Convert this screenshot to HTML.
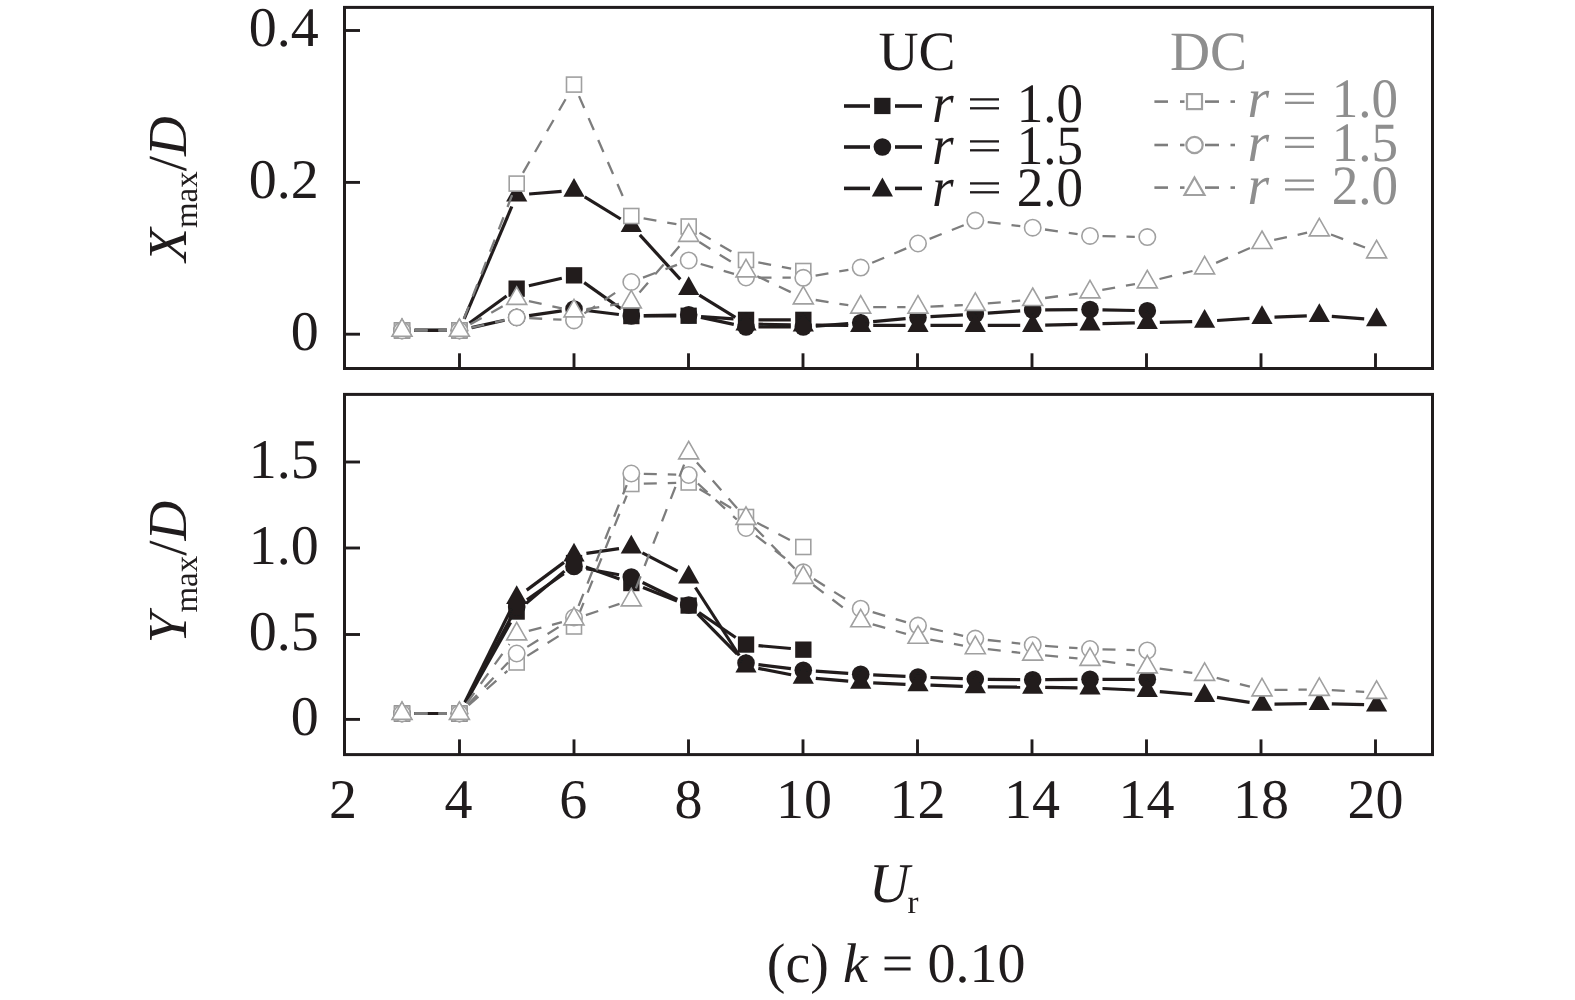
<!DOCTYPE html>
<html><head><meta charset="utf-8"><title>chart</title>
<style>html,body{margin:0;padding:0;background:#fff;}body{width:1575px;height:1000px;position:relative;overflow:hidden;font-family:"Liberation Serif",serif;}</style>
</head><body>
<svg width="1575" height="1000" viewBox="0 0 1575 1000" style="position:absolute;left:0;top:0">
<rect width="1575" height="1000" fill="#fff"/>
<defs><filter id="b" x="-5%" y="-5%" width="110%" height="110%"><feGaussianBlur stdDeviation="0.55"/></filter></defs>
<g filter="url(#b)">
<line x1="414.5" y1="330.4" x2="446.9" y2="330.4" stroke="#201c1d" stroke-width="3.2"/>
<line x1="469.5" y1="323.0" x2="506.6" y2="296.0" stroke="#201c1d" stroke-width="3.2"/>
<line x1="528.9" y1="285.8" x2="561.8" y2="278.2" stroke="#201c1d" stroke-width="3.2"/>
<line x1="584.2" y1="282.6" x2="621.1" y2="308.8" stroke="#201c1d" stroke-width="3.2"/>
<line x1="643.8" y1="315.9" x2="676.2" y2="315.8" stroke="#201c1d" stroke-width="3.2"/>
<line x1="701.1" y1="316.6" x2="733.5" y2="318.9" stroke="#201c1d" stroke-width="3.2"/>
<line x1="758.5" y1="319.8" x2="790.8" y2="319.8" stroke="#201c1d" stroke-width="3.2"/>
<rect x="393.9" y="322.2" width="16.3" height="16.3" fill="#201c1d" stroke="none"/>
<rect x="451.2" y="322.2" width="16.3" height="16.3" fill="#201c1d" stroke="none"/>
<rect x="508.5" y="280.5" width="16.3" height="16.3" fill="#201c1d" stroke="none"/>
<rect x="565.9" y="267.2" width="16.3" height="16.3" fill="#201c1d" stroke="none"/>
<rect x="623.2" y="307.9" width="16.3" height="16.3" fill="#201c1d" stroke="none"/>
<rect x="680.5" y="307.6" width="16.3" height="16.3" fill="#201c1d" stroke="none"/>
<rect x="737.9" y="311.7" width="16.3" height="16.3" fill="#201c1d" stroke="none"/>
<rect x="795.2" y="311.7" width="16.3" height="16.3" fill="#201c1d" stroke="none"/>
<line x1="414.5" y1="330.4" x2="446.9" y2="330.4" stroke="#201c1d" stroke-width="3.2"/>
<line x1="471.6" y1="327.6" x2="504.5" y2="320.2" stroke="#201c1d" stroke-width="3.2"/>
<line x1="529.1" y1="315.6" x2="561.7" y2="310.8" stroke="#201c1d" stroke-width="3.2"/>
<line x1="586.4" y1="310.5" x2="618.9" y2="314.5" stroke="#201c1d" stroke-width="3.2"/>
<line x1="643.8" y1="315.7" x2="676.2" y2="315.1" stroke="#201c1d" stroke-width="3.2"/>
<line x1="700.9" y1="317.4" x2="733.8" y2="324.4" stroke="#201c1d" stroke-width="3.2"/>
<line x1="758.5" y1="327.0" x2="790.8" y2="327.0" stroke="#201c1d" stroke-width="3.2"/>
<line x1="815.8" y1="326.1" x2="848.2" y2="323.6" stroke="#201c1d" stroke-width="3.2"/>
<line x1="873.1" y1="321.6" x2="905.6" y2="318.6" stroke="#201c1d" stroke-width="3.2"/>
<line x1="930.5" y1="316.7" x2="962.9" y2="314.8" stroke="#201c1d" stroke-width="3.2"/>
<line x1="987.8" y1="313.1" x2="1020.2" y2="310.9" stroke="#201c1d" stroke-width="3.2"/>
<line x1="1045.2" y1="309.9" x2="1077.5" y2="309.6" stroke="#201c1d" stroke-width="3.2"/>
<line x1="1102.5" y1="309.8" x2="1134.8" y2="310.5" stroke="#201c1d" stroke-width="3.2"/>
<circle cx="402.0" cy="330.4" r="8.8" fill="#201c1d" stroke="none"/>
<circle cx="459.4" cy="330.4" r="8.8" fill="#201c1d" stroke="none"/>
<circle cx="516.7" cy="317.4" r="8.8" fill="#201c1d" stroke="none"/>
<circle cx="574.0" cy="309.0" r="8.8" fill="#201c1d" stroke="none"/>
<circle cx="631.3" cy="316.0" r="8.8" fill="#201c1d" stroke="none"/>
<circle cx="688.7" cy="314.8" r="8.8" fill="#201c1d" stroke="none"/>
<circle cx="746.0" cy="327.0" r="8.8" fill="#201c1d" stroke="none"/>
<circle cx="803.3" cy="327.0" r="8.8" fill="#201c1d" stroke="none"/>
<circle cx="860.7" cy="322.7" r="8.8" fill="#201c1d" stroke="none"/>
<circle cx="918.0" cy="317.5" r="8.8" fill="#201c1d" stroke="none"/>
<circle cx="975.3" cy="314.0" r="8.8" fill="#201c1d" stroke="none"/>
<circle cx="1032.7" cy="310.0" r="8.8" fill="#201c1d" stroke="none"/>
<circle cx="1090.0" cy="309.5" r="8.8" fill="#201c1d" stroke="none"/>
<circle cx="1147.3" cy="310.8" r="8.8" fill="#201c1d" stroke="none"/>
<line x1="414.5" y1="330.4" x2="446.9" y2="330.4" stroke="#201c1d" stroke-width="3.2"/>
<line x1="464.2" y1="318.9" x2="511.8" y2="206.5" stroke="#201c1d" stroke-width="3.2"/>
<line x1="529.1" y1="194.0" x2="561.6" y2="191.3" stroke="#201c1d" stroke-width="3.2"/>
<line x1="584.7" y1="196.9" x2="620.7" y2="219.0" stroke="#201c1d" stroke-width="3.2"/>
<line x1="639.8" y1="234.8" x2="680.3" y2="279.4" stroke="#201c1d" stroke-width="3.2"/>
<line x1="699.3" y1="295.2" x2="735.4" y2="317.4" stroke="#201c1d" stroke-width="3.2"/>
<line x1="758.5" y1="324.2" x2="790.8" y2="324.8" stroke="#201c1d" stroke-width="3.2"/>
<line x1="815.8" y1="325.1" x2="848.2" y2="325.3" stroke="#201c1d" stroke-width="3.2"/>
<line x1="873.2" y1="325.4" x2="905.5" y2="325.4" stroke="#201c1d" stroke-width="3.2"/>
<line x1="930.5" y1="325.4" x2="962.8" y2="325.4" stroke="#201c1d" stroke-width="3.2"/>
<line x1="987.8" y1="325.4" x2="1020.2" y2="325.4" stroke="#201c1d" stroke-width="3.2"/>
<line x1="1045.2" y1="325.1" x2="1077.5" y2="324.3" stroke="#201c1d" stroke-width="3.2"/>
<line x1="1102.5" y1="323.7" x2="1134.8" y2="322.9" stroke="#201c1d" stroke-width="3.2"/>
<line x1="1159.8" y1="322.3" x2="1192.2" y2="321.6" stroke="#201c1d" stroke-width="3.2"/>
<line x1="1217.1" y1="320.5" x2="1249.5" y2="318.3" stroke="#201c1d" stroke-width="3.2"/>
<line x1="1274.5" y1="317.1" x2="1306.8" y2="315.9" stroke="#201c1d" stroke-width="3.2"/>
<line x1="1331.8" y1="316.4" x2="1364.2" y2="318.9" stroke="#201c1d" stroke-width="3.2"/>
<path d="M402.0 318.1L412.6 336.9L391.4 336.9Z" fill="#201c1d" stroke="none"/>
<path d="M459.4 318.1L470.0 336.9L448.8 336.9Z" fill="#201c1d" stroke="none"/>
<path d="M516.7 182.7L527.3 201.5L506.1 201.5Z" fill="#201c1d" stroke="none"/>
<path d="M574.0 178.0L584.6 196.8L563.4 196.8Z" fill="#201c1d" stroke="none"/>
<path d="M631.3 213.3L641.9 232.1L620.7 232.1Z" fill="#201c1d" stroke="none"/>
<path d="M688.7 276.3L699.3 295.1L678.1 295.1Z" fill="#201c1d" stroke="none"/>
<path d="M746.0 311.7L756.6 330.5L735.4 330.5Z" fill="#201c1d" stroke="none"/>
<path d="M803.3 312.7L813.9 331.5L792.7 331.5Z" fill="#201c1d" stroke="none"/>
<path d="M860.7 313.1L871.3 331.9L850.1 331.9Z" fill="#201c1d" stroke="none"/>
<path d="M918.0 313.1L928.6 331.9L907.4 331.9Z" fill="#201c1d" stroke="none"/>
<path d="M975.3 313.1L985.9 331.9L964.7 331.9Z" fill="#201c1d" stroke="none"/>
<path d="M1032.7 313.1L1043.3 331.9L1022.1 331.9Z" fill="#201c1d" stroke="none"/>
<path d="M1090.0 311.7L1100.6 330.5L1079.4 330.5Z" fill="#201c1d" stroke="none"/>
<path d="M1147.3 310.3L1157.9 329.1L1136.7 329.1Z" fill="#201c1d" stroke="none"/>
<path d="M1204.6 309.0L1215.2 327.8L1194.0 327.8Z" fill="#201c1d" stroke="none"/>
<path d="M1262.0 305.2L1272.6 324.0L1251.4 324.0Z" fill="#201c1d" stroke="none"/>
<path d="M1319.3 303.2L1329.9 322.0L1308.7 322.0Z" fill="#201c1d" stroke="none"/>
<path d="M1376.6 307.5L1387.2 326.3L1366.0 326.3Z" fill="#201c1d" stroke="none"/>
<line x1="414.5" y1="330.4" x2="446.9" y2="330.4" stroke="#7d7d7d" stroke-width="2.3" stroke-dasharray="13 11"/>
<line x1="463.9" y1="318.8" x2="512.1" y2="195.2" stroke="#7d7d7d" stroke-width="2.3" stroke-dasharray="13 11"/>
<line x1="523.0" y1="172.8" x2="567.8" y2="95.4" stroke="#7d7d7d" stroke-width="2.3" stroke-dasharray="13 11"/>
<line x1="579.0" y1="96.1" x2="626.4" y2="204.5" stroke="#7d7d7d" stroke-width="2.3" stroke-dasharray="13 11"/>
<line x1="643.6" y1="218.3" x2="676.4" y2="224.2" stroke="#7d7d7d" stroke-width="2.3" stroke-dasharray="13 11"/>
<line x1="699.5" y1="232.8" x2="735.2" y2="253.7" stroke="#7d7d7d" stroke-width="2.3" stroke-dasharray="13 11"/>
<line x1="758.3" y1="262.4" x2="791.1" y2="268.6" stroke="#7d7d7d" stroke-width="2.3" stroke-dasharray="13 11"/>
<rect x="394.5" y="322.9" width="15.0" height="15.0" fill="#fff" stroke="#a0a0a0" stroke-width="1.6"/>
<rect x="451.9" y="322.9" width="15.0" height="15.0" fill="#fff" stroke="#a0a0a0" stroke-width="1.6"/>
<rect x="509.2" y="176.1" width="15.0" height="15.0" fill="#fff" stroke="#a0a0a0" stroke-width="1.6"/>
<rect x="566.5" y="77.1" width="15.0" height="15.0" fill="#fff" stroke="#a0a0a0" stroke-width="1.6"/>
<rect x="623.8" y="208.5" width="15.0" height="15.0" fill="#fff" stroke="#a0a0a0" stroke-width="1.6"/>
<rect x="681.2" y="219.0" width="15.0" height="15.0" fill="#fff" stroke="#a0a0a0" stroke-width="1.6"/>
<rect x="738.5" y="252.5" width="15.0" height="15.0" fill="#fff" stroke="#a0a0a0" stroke-width="1.6"/>
<rect x="795.8" y="263.5" width="15.0" height="15.0" fill="#fff" stroke="#a0a0a0" stroke-width="1.6"/>
<line x1="414.5" y1="330.4" x2="446.9" y2="330.4" stroke="#7d7d7d" stroke-width="2.3" stroke-dasharray="13 11"/>
<line x1="471.6" y1="327.6" x2="504.5" y2="320.2" stroke="#7d7d7d" stroke-width="2.3" stroke-dasharray="13 11"/>
<line x1="529.2" y1="318.1" x2="561.5" y2="319.7" stroke="#7d7d7d" stroke-width="2.3" stroke-dasharray="13 11"/>
<line x1="584.4" y1="313.4" x2="621.0" y2="289.0" stroke="#7d7d7d" stroke-width="2.3" stroke-dasharray="13 11"/>
<line x1="643.0" y1="277.6" x2="677.0" y2="264.8" stroke="#7d7d7d" stroke-width="2.3" stroke-dasharray="13 11"/>
<line x1="700.7" y1="264.0" x2="734.0" y2="273.9" stroke="#7d7d7d" stroke-width="2.3" stroke-dasharray="13 11"/>
<line x1="758.5" y1="277.6" x2="790.8" y2="277.7" stroke="#7d7d7d" stroke-width="2.3" stroke-dasharray="13 11"/>
<line x1="815.6" y1="275.6" x2="848.4" y2="269.8" stroke="#7d7d7d" stroke-width="2.3" stroke-dasharray="13 11"/>
<line x1="872.2" y1="262.8" x2="906.5" y2="248.3" stroke="#7d7d7d" stroke-width="2.3" stroke-dasharray="13 11"/>
<line x1="929.6" y1="238.9" x2="963.7" y2="225.2" stroke="#7d7d7d" stroke-width="2.3" stroke-dasharray="13 11"/>
<line x1="987.7" y1="222.1" x2="1020.3" y2="226.2" stroke="#7d7d7d" stroke-width="2.3" stroke-dasharray="13 11"/>
<line x1="1045.0" y1="229.5" x2="1077.6" y2="234.1" stroke="#7d7d7d" stroke-width="2.3" stroke-dasharray="13 11"/>
<line x1="1102.5" y1="236.2" x2="1134.8" y2="236.8" stroke="#7d7d7d" stroke-width="2.3" stroke-dasharray="13 11"/>
<circle cx="402.0" cy="330.4" r="8.2" fill="#fff" stroke="#a0a0a0" stroke-width="1.6"/>
<circle cx="459.4" cy="330.4" r="8.2" fill="#fff" stroke="#a0a0a0" stroke-width="1.6"/>
<circle cx="516.7" cy="317.4" r="8.2" fill="#fff" stroke="#a0a0a0" stroke-width="1.6"/>
<circle cx="574.0" cy="320.4" r="8.2" fill="#fff" stroke="#a0a0a0" stroke-width="1.6"/>
<circle cx="631.3" cy="282.0" r="8.2" fill="#fff" stroke="#a0a0a0" stroke-width="1.6"/>
<circle cx="688.7" cy="260.4" r="8.2" fill="#fff" stroke="#a0a0a0" stroke-width="1.6"/>
<circle cx="746.0" cy="277.5" r="8.2" fill="#fff" stroke="#a0a0a0" stroke-width="1.6"/>
<circle cx="803.3" cy="277.8" r="8.2" fill="#fff" stroke="#a0a0a0" stroke-width="1.6"/>
<circle cx="860.7" cy="267.6" r="8.2" fill="#fff" stroke="#a0a0a0" stroke-width="1.6"/>
<circle cx="918.0" cy="243.5" r="8.2" fill="#fff" stroke="#a0a0a0" stroke-width="1.6"/>
<circle cx="975.3" cy="220.6" r="8.2" fill="#fff" stroke="#a0a0a0" stroke-width="1.6"/>
<circle cx="1032.7" cy="227.7" r="8.2" fill="#fff" stroke="#a0a0a0" stroke-width="1.6"/>
<circle cx="1090.0" cy="235.9" r="8.2" fill="#fff" stroke="#a0a0a0" stroke-width="1.6"/>
<circle cx="1147.3" cy="237.1" r="8.2" fill="#fff" stroke="#a0a0a0" stroke-width="1.6"/>
<line x1="414.5" y1="330.4" x2="446.9" y2="330.4" stroke="#7d7d7d" stroke-width="2.3" stroke-dasharray="13 11"/>
<line x1="470.3" y1="324.3" x2="505.8" y2="304.6" stroke="#7d7d7d" stroke-width="2.3" stroke-dasharray="13 11"/>
<line x1="528.9" y1="301.2" x2="561.8" y2="308.3" stroke="#7d7d7d" stroke-width="2.3" stroke-dasharray="13 11"/>
<line x1="586.4" y1="309.1" x2="619.0" y2="303.9" stroke="#7d7d7d" stroke-width="2.3" stroke-dasharray="13 11"/>
<line x1="639.5" y1="292.5" x2="680.5" y2="245.0" stroke="#7d7d7d" stroke-width="2.3" stroke-dasharray="13 11"/>
<line x1="699.3" y1="242.1" x2="735.4" y2="264.4" stroke="#7d7d7d" stroke-width="2.3" stroke-dasharray="13 11"/>
<line x1="757.3" y1="276.3" x2="792.0" y2="292.7" stroke="#7d7d7d" stroke-width="2.3" stroke-dasharray="13 11"/>
<line x1="815.7" y1="300.0" x2="848.3" y2="305.2" stroke="#7d7d7d" stroke-width="2.3" stroke-dasharray="13 11"/>
<line x1="873.2" y1="307.2" x2="905.5" y2="307.2" stroke="#7d7d7d" stroke-width="2.3" stroke-dasharray="13 11"/>
<line x1="930.5" y1="306.6" x2="962.8" y2="305.1" stroke="#7d7d7d" stroke-width="2.3" stroke-dasharray="13 11"/>
<line x1="987.8" y1="303.4" x2="1020.2" y2="300.7" stroke="#7d7d7d" stroke-width="2.3" stroke-dasharray="13 11"/>
<line x1="1045.1" y1="298.0" x2="1077.6" y2="293.6" stroke="#7d7d7d" stroke-width="2.3" stroke-dasharray="13 11"/>
<line x1="1102.3" y1="289.9" x2="1135.0" y2="284.1" stroke="#7d7d7d" stroke-width="2.3" stroke-dasharray="13 11"/>
<line x1="1159.5" y1="279.0" x2="1192.5" y2="271.0" stroke="#7d7d7d" stroke-width="2.3" stroke-dasharray="13 11"/>
<line x1="1216.1" y1="262.9" x2="1250.6" y2="247.7" stroke="#7d7d7d" stroke-width="2.3" stroke-dasharray="13 11"/>
<line x1="1274.2" y1="239.9" x2="1307.1" y2="232.7" stroke="#7d7d7d" stroke-width="2.3" stroke-dasharray="13 11"/>
<line x1="1331.0" y1="234.5" x2="1365.0" y2="247.5" stroke="#7d7d7d" stroke-width="2.3" stroke-dasharray="13 11"/>
<path d="M402.0 318.8L412.0 336.3L392.0 336.3Z" fill="#fff" stroke="#a0a0a0" stroke-width="1.6"/>
<path d="M459.4 318.8L469.4 336.3L449.4 336.3Z" fill="#fff" stroke="#a0a0a0" stroke-width="1.6"/>
<path d="M516.7 286.9L526.7 304.4L506.7 304.4Z" fill="#fff" stroke="#a0a0a0" stroke-width="1.6"/>
<path d="M574.0 299.4L584.0 316.9L564.0 316.9Z" fill="#fff" stroke="#a0a0a0" stroke-width="1.6"/>
<path d="M631.3 290.4L641.3 307.9L621.3 307.9Z" fill="#fff" stroke="#a0a0a0" stroke-width="1.6"/>
<path d="M688.7 223.9L698.7 241.4L678.7 241.4Z" fill="#fff" stroke="#a0a0a0" stroke-width="1.6"/>
<path d="M746.0 259.4L756.0 276.9L736.0 276.9Z" fill="#fff" stroke="#a0a0a0" stroke-width="1.6"/>
<path d="M803.3 286.4L813.3 303.9L793.3 303.9Z" fill="#fff" stroke="#a0a0a0" stroke-width="1.6"/>
<path d="M860.7 295.6L870.7 313.1L850.7 313.1Z" fill="#fff" stroke="#a0a0a0" stroke-width="1.6"/>
<path d="M918.0 295.6L928.0 313.1L908.0 313.1Z" fill="#fff" stroke="#a0a0a0" stroke-width="1.6"/>
<path d="M975.3 292.9L985.3 310.4L965.3 310.4Z" fill="#fff" stroke="#a0a0a0" stroke-width="1.6"/>
<path d="M1032.7 288.0L1042.7 305.5L1022.7 305.5Z" fill="#fff" stroke="#a0a0a0" stroke-width="1.6"/>
<path d="M1090.0 280.4L1100.0 297.9L1080.0 297.9Z" fill="#fff" stroke="#a0a0a0" stroke-width="1.6"/>
<path d="M1147.3 270.4L1157.3 287.9L1137.3 287.9Z" fill="#fff" stroke="#a0a0a0" stroke-width="1.6"/>
<path d="M1204.6 256.4L1214.6 273.9L1194.6 273.9Z" fill="#fff" stroke="#a0a0a0" stroke-width="1.6"/>
<path d="M1262.0 231.0L1272.0 248.5L1252.0 248.5Z" fill="#fff" stroke="#a0a0a0" stroke-width="1.6"/>
<path d="M1319.3 218.4L1329.3 235.9L1309.3 235.9Z" fill="#fff" stroke="#a0a0a0" stroke-width="1.6"/>
<path d="M1376.6 240.4L1386.6 257.9L1366.6 257.9Z" fill="#fff" stroke="#a0a0a0" stroke-width="1.6"/>
<line x1="414.5" y1="713.5" x2="446.9" y2="713.5" stroke="#201c1d" stroke-width="3.2"/>
<line x1="465.5" y1="702.6" x2="510.6" y2="622.4" stroke="#201c1d" stroke-width="3.2"/>
<line x1="526.2" y1="603.4" x2="564.5" y2="571.1" stroke="#201c1d" stroke-width="3.2"/>
<line x1="585.8" y1="567.1" x2="619.5" y2="578.9" stroke="#201c1d" stroke-width="3.2"/>
<line x1="643.0" y1="587.6" x2="677.0" y2="600.9" stroke="#201c1d" stroke-width="3.2"/>
<line x1="699.0" y1="612.5" x2="735.7" y2="637.5" stroke="#201c1d" stroke-width="3.2"/>
<line x1="758.5" y1="645.6" x2="790.9" y2="648.5" stroke="#201c1d" stroke-width="3.2"/>
<rect x="393.9" y="705.4" width="16.3" height="16.3" fill="#201c1d" stroke="none"/>
<rect x="451.2" y="705.4" width="16.3" height="16.3" fill="#201c1d" stroke="none"/>
<rect x="508.5" y="603.4" width="16.3" height="16.3" fill="#201c1d" stroke="none"/>
<rect x="565.9" y="554.9" width="16.3" height="16.3" fill="#201c1d" stroke="none"/>
<rect x="623.2" y="574.9" width="16.3" height="16.3" fill="#201c1d" stroke="none"/>
<rect x="680.5" y="597.4" width="16.3" height="16.3" fill="#201c1d" stroke="none"/>
<rect x="737.9" y="636.4" width="16.3" height="16.3" fill="#201c1d" stroke="none"/>
<rect x="795.2" y="641.5" width="16.3" height="16.3" fill="#201c1d" stroke="none"/>
<line x1="414.5" y1="713.5" x2="446.9" y2="713.5" stroke="#201c1d" stroke-width="3.2"/>
<line x1="465.3" y1="702.5" x2="510.8" y2="618.0" stroke="#201c1d" stroke-width="3.2"/>
<line x1="526.9" y1="599.8" x2="563.8" y2="573.7" stroke="#201c1d" stroke-width="3.2"/>
<line x1="586.3" y1="568.8" x2="619.1" y2="574.7" stroke="#201c1d" stroke-width="3.2"/>
<line x1="642.6" y1="582.5" x2="677.4" y2="599.5" stroke="#201c1d" stroke-width="3.2"/>
<line x1="697.5" y1="613.9" x2="737.2" y2="654.1" stroke="#201c1d" stroke-width="3.2"/>
<line x1="758.4" y1="664.6" x2="790.9" y2="668.7" stroke="#201c1d" stroke-width="3.2"/>
<line x1="815.8" y1="671.1" x2="848.2" y2="673.4" stroke="#201c1d" stroke-width="3.2"/>
<line x1="873.2" y1="674.8" x2="905.5" y2="676.4" stroke="#201c1d" stroke-width="3.2"/>
<line x1="930.5" y1="677.5" x2="962.8" y2="678.6" stroke="#201c1d" stroke-width="3.2"/>
<line x1="987.8" y1="679.3" x2="1020.2" y2="679.6" stroke="#201c1d" stroke-width="3.2"/>
<line x1="1045.2" y1="679.7" x2="1077.5" y2="679.4" stroke="#201c1d" stroke-width="3.2"/>
<line x1="1102.5" y1="679.3" x2="1134.8" y2="679.3" stroke="#201c1d" stroke-width="3.2"/>
<circle cx="402.0" cy="713.5" r="8.8" fill="#201c1d" stroke="none"/>
<circle cx="459.4" cy="713.5" r="8.8" fill="#201c1d" stroke="none"/>
<circle cx="516.7" cy="607.0" r="8.8" fill="#201c1d" stroke="none"/>
<circle cx="574.0" cy="566.5" r="8.8" fill="#201c1d" stroke="none"/>
<circle cx="631.3" cy="577.0" r="8.8" fill="#201c1d" stroke="none"/>
<circle cx="688.7" cy="605.0" r="8.8" fill="#201c1d" stroke="none"/>
<circle cx="746.0" cy="663.0" r="8.8" fill="#201c1d" stroke="none"/>
<circle cx="803.3" cy="670.3" r="8.8" fill="#201c1d" stroke="none"/>
<circle cx="860.7" cy="674.2" r="8.8" fill="#201c1d" stroke="none"/>
<circle cx="918.0" cy="677.0" r="8.8" fill="#201c1d" stroke="none"/>
<circle cx="975.3" cy="679.1" r="8.8" fill="#201c1d" stroke="none"/>
<circle cx="1032.7" cy="679.8" r="8.8" fill="#201c1d" stroke="none"/>
<circle cx="1090.0" cy="679.3" r="8.8" fill="#201c1d" stroke="none"/>
<circle cx="1147.3" cy="679.3" r="8.8" fill="#201c1d" stroke="none"/>
<line x1="414.5" y1="713.5" x2="446.9" y2="713.5" stroke="#201c1d" stroke-width="3.2"/>
<line x1="464.9" y1="702.3" x2="511.2" y2="608.7" stroke="#201c1d" stroke-width="3.2"/>
<line x1="526.7" y1="590.1" x2="564.0" y2="562.4" stroke="#201c1d" stroke-width="3.2"/>
<line x1="586.4" y1="553.3" x2="619.0" y2="548.7" stroke="#201c1d" stroke-width="3.2"/>
<line x1="642.4" y1="552.8" x2="677.6" y2="571.2" stroke="#201c1d" stroke-width="3.2"/>
<line x1="695.4" y1="587.5" x2="739.2" y2="655.5" stroke="#201c1d" stroke-width="3.2"/>
<line x1="758.3" y1="668.4" x2="791.1" y2="674.8" stroke="#201c1d" stroke-width="3.2"/>
<line x1="815.8" y1="678.3" x2="848.2" y2="681.2" stroke="#201c1d" stroke-width="3.2"/>
<line x1="873.2" y1="682.8" x2="905.5" y2="684.3" stroke="#201c1d" stroke-width="3.2"/>
<line x1="930.5" y1="685.2" x2="962.8" y2="686.4" stroke="#201c1d" stroke-width="3.2"/>
<line x1="987.8" y1="686.9" x2="1020.2" y2="687.1" stroke="#201c1d" stroke-width="3.2"/>
<line x1="1045.2" y1="687.4" x2="1077.5" y2="687.8" stroke="#201c1d" stroke-width="3.2"/>
<line x1="1102.5" y1="688.5" x2="1134.8" y2="690.0" stroke="#201c1d" stroke-width="3.2"/>
<line x1="1159.8" y1="691.6" x2="1192.2" y2="694.4" stroke="#201c1d" stroke-width="3.2"/>
<line x1="1217.0" y1="697.4" x2="1249.6" y2="702.4" stroke="#201c1d" stroke-width="3.2"/>
<line x1="1274.5" y1="704.1" x2="1306.8" y2="703.7" stroke="#201c1d" stroke-width="3.2"/>
<line x1="1331.8" y1="703.8" x2="1364.1" y2="704.7" stroke="#201c1d" stroke-width="3.2"/>
<path d="M402.0 701.2L412.6 720.0L391.4 720.0Z" fill="#201c1d" stroke="none"/>
<path d="M459.4 701.2L470.0 720.0L448.8 720.0Z" fill="#201c1d" stroke="none"/>
<path d="M516.7 585.2L527.3 604.0L506.1 604.0Z" fill="#201c1d" stroke="none"/>
<path d="M574.0 542.7L584.6 561.5L563.4 561.5Z" fill="#201c1d" stroke="none"/>
<path d="M631.3 534.7L641.9 553.5L620.7 553.5Z" fill="#201c1d" stroke="none"/>
<path d="M688.7 564.7L699.3 583.5L678.1 583.5Z" fill="#201c1d" stroke="none"/>
<path d="M746.0 653.7L756.6 672.5L735.4 672.5Z" fill="#201c1d" stroke="none"/>
<path d="M803.3 664.9L813.9 683.7L792.7 683.7Z" fill="#201c1d" stroke="none"/>
<path d="M860.7 670.0L871.3 688.8L850.1 688.8Z" fill="#201c1d" stroke="none"/>
<path d="M918.0 672.5L928.6 691.3L907.4 691.3Z" fill="#201c1d" stroke="none"/>
<path d="M975.3 674.5L985.9 693.3L964.7 693.3Z" fill="#201c1d" stroke="none"/>
<path d="M1032.7 674.9L1043.3 693.7L1022.1 693.7Z" fill="#201c1d" stroke="none"/>
<path d="M1090.0 675.7L1100.6 694.5L1079.4 694.5Z" fill="#201c1d" stroke="none"/>
<path d="M1147.3 678.2L1157.9 697.0L1136.7 697.0Z" fill="#201c1d" stroke="none"/>
<path d="M1204.6 683.2L1215.2 702.0L1194.0 702.0Z" fill="#201c1d" stroke="none"/>
<path d="M1262.0 692.0L1272.6 710.8L1251.4 710.8Z" fill="#201c1d" stroke="none"/>
<path d="M1319.3 691.2L1329.9 710.0L1308.7 710.0Z" fill="#201c1d" stroke="none"/>
<path d="M1376.6 692.7L1387.2 711.5L1366.0 711.5Z" fill="#201c1d" stroke="none"/>
<line x1="414.5" y1="713.5" x2="446.9" y2="713.5" stroke="#7d7d7d" stroke-width="2.3" stroke-dasharray="13 11"/>
<line x1="468.7" y1="705.2" x2="507.4" y2="670.8" stroke="#7d7d7d" stroke-width="2.3" stroke-dasharray="13 11"/>
<line x1="527.3" y1="655.9" x2="563.4" y2="633.1" stroke="#7d7d7d" stroke-width="2.3" stroke-dasharray="13 11"/>
<line x1="578.7" y1="614.9" x2="626.7" y2="495.6" stroke="#7d7d7d" stroke-width="2.3" stroke-dasharray="13 11"/>
<line x1="643.8" y1="483.7" x2="676.2" y2="482.8" stroke="#7d7d7d" stroke-width="2.3" stroke-dasharray="13 11"/>
<line x1="699.4" y1="488.9" x2="735.3" y2="510.6" stroke="#7d7d7d" stroke-width="2.3" stroke-dasharray="13 11"/>
<line x1="757.1" y1="522.8" x2="792.3" y2="541.2" stroke="#7d7d7d" stroke-width="2.3" stroke-dasharray="13 11"/>
<rect x="394.5" y="706.0" width="15.0" height="15.0" fill="#fff" stroke="#a0a0a0" stroke-width="1.6"/>
<rect x="451.9" y="706.0" width="15.0" height="15.0" fill="#fff" stroke="#a0a0a0" stroke-width="1.6"/>
<rect x="509.2" y="655.0" width="15.0" height="15.0" fill="#fff" stroke="#a0a0a0" stroke-width="1.6"/>
<rect x="566.5" y="619.0" width="15.0" height="15.0" fill="#fff" stroke="#a0a0a0" stroke-width="1.6"/>
<rect x="623.8" y="476.5" width="15.0" height="15.0" fill="#fff" stroke="#a0a0a0" stroke-width="1.6"/>
<rect x="681.2" y="475.0" width="15.0" height="15.0" fill="#fff" stroke="#a0a0a0" stroke-width="1.6"/>
<rect x="738.5" y="509.5" width="15.0" height="15.0" fill="#fff" stroke="#a0a0a0" stroke-width="1.6"/>
<rect x="795.8" y="539.5" width="15.0" height="15.0" fill="#fff" stroke="#a0a0a0" stroke-width="1.6"/>
<line x1="414.5" y1="713.5" x2="446.9" y2="713.5" stroke="#7d7d7d" stroke-width="2.3" stroke-dasharray="13 11"/>
<line x1="468.0" y1="704.5" x2="508.1" y2="662.5" stroke="#7d7d7d" stroke-width="2.3" stroke-dasharray="13 11"/>
<line x1="527.3" y1="646.9" x2="563.4" y2="624.1" stroke="#7d7d7d" stroke-width="2.3" stroke-dasharray="13 11"/>
<line x1="578.6" y1="605.9" x2="626.7" y2="485.1" stroke="#7d7d7d" stroke-width="2.3" stroke-dasharray="13 11"/>
<line x1="643.8" y1="473.8" x2="676.2" y2="474.7" stroke="#7d7d7d" stroke-width="2.3" stroke-dasharray="13 11"/>
<line x1="697.9" y1="483.5" x2="736.8" y2="519.5" stroke="#7d7d7d" stroke-width="2.3" stroke-dasharray="13 11"/>
<line x1="755.9" y1="535.6" x2="793.4" y2="564.7" stroke="#7d7d7d" stroke-width="2.3" stroke-dasharray="13 11"/>
<line x1="813.9" y1="579.0" x2="850.1" y2="602.0" stroke="#7d7d7d" stroke-width="2.3" stroke-dasharray="13 11"/>
<line x1="872.7" y1="612.2" x2="906.0" y2="622.1" stroke="#7d7d7d" stroke-width="2.3" stroke-dasharray="13 11"/>
<line x1="930.2" y1="628.4" x2="963.1" y2="635.8" stroke="#7d7d7d" stroke-width="2.3" stroke-dasharray="13 11"/>
<line x1="987.8" y1="640.0" x2="1020.2" y2="643.6" stroke="#7d7d7d" stroke-width="2.3" stroke-dasharray="13 11"/>
<line x1="1045.1" y1="645.9" x2="1077.5" y2="648.1" stroke="#7d7d7d" stroke-width="2.3" stroke-dasharray="13 11"/>
<line x1="1102.5" y1="649.3" x2="1134.8" y2="650.1" stroke="#7d7d7d" stroke-width="2.3" stroke-dasharray="13 11"/>
<circle cx="402.0" cy="713.5" r="8.2" fill="#fff" stroke="#a0a0a0" stroke-width="1.6"/>
<circle cx="459.4" cy="713.5" r="8.2" fill="#fff" stroke="#a0a0a0" stroke-width="1.6"/>
<circle cx="516.7" cy="653.5" r="8.2" fill="#fff" stroke="#a0a0a0" stroke-width="1.6"/>
<circle cx="574.0" cy="617.5" r="8.2" fill="#fff" stroke="#a0a0a0" stroke-width="1.6"/>
<circle cx="631.3" cy="473.5" r="8.2" fill="#fff" stroke="#a0a0a0" stroke-width="1.6"/>
<circle cx="688.7" cy="475.0" r="8.2" fill="#fff" stroke="#a0a0a0" stroke-width="1.6"/>
<circle cx="746.0" cy="528.0" r="8.2" fill="#fff" stroke="#a0a0a0" stroke-width="1.6"/>
<circle cx="803.3" cy="572.3" r="8.2" fill="#fff" stroke="#a0a0a0" stroke-width="1.6"/>
<circle cx="860.7" cy="608.7" r="8.2" fill="#fff" stroke="#a0a0a0" stroke-width="1.6"/>
<circle cx="918.0" cy="625.6" r="8.2" fill="#fff" stroke="#a0a0a0" stroke-width="1.6"/>
<circle cx="975.3" cy="638.6" r="8.2" fill="#fff" stroke="#a0a0a0" stroke-width="1.6"/>
<circle cx="1032.7" cy="645.0" r="8.2" fill="#fff" stroke="#a0a0a0" stroke-width="1.6"/>
<circle cx="1090.0" cy="649.0" r="8.2" fill="#fff" stroke="#a0a0a0" stroke-width="1.6"/>
<circle cx="1147.3" cy="650.4" r="8.2" fill="#fff" stroke="#a0a0a0" stroke-width="1.6"/>
<line x1="414.5" y1="713.5" x2="446.9" y2="713.5" stroke="#7d7d7d" stroke-width="2.3" stroke-dasharray="13 11"/>
<line x1="466.7" y1="703.4" x2="509.4" y2="644.1" stroke="#7d7d7d" stroke-width="2.3" stroke-dasharray="13 11"/>
<line x1="528.8" y1="630.8" x2="561.9" y2="622.2" stroke="#7d7d7d" stroke-width="2.3" stroke-dasharray="13 11"/>
<line x1="585.9" y1="615.1" x2="619.5" y2="603.9" stroke="#7d7d7d" stroke-width="2.3" stroke-dasharray="13 11"/>
<line x1="635.9" y1="588.4" x2="684.1" y2="464.6" stroke="#7d7d7d" stroke-width="2.3" stroke-dasharray="13 11"/>
<line x1="696.9" y1="462.4" x2="737.8" y2="509.1" stroke="#7d7d7d" stroke-width="2.3" stroke-dasharray="13 11"/>
<line x1="754.7" y1="527.5" x2="794.6" y2="568.5" stroke="#7d7d7d" stroke-width="2.3" stroke-dasharray="13 11"/>
<line x1="813.3" y1="585.0" x2="850.7" y2="613.4" stroke="#7d7d7d" stroke-width="2.3" stroke-dasharray="13 11"/>
<line x1="872.7" y1="624.4" x2="906.0" y2="633.9" stroke="#7d7d7d" stroke-width="2.3" stroke-dasharray="13 11"/>
<line x1="930.3" y1="639.6" x2="963.0" y2="645.6" stroke="#7d7d7d" stroke-width="2.3" stroke-dasharray="13 11"/>
<line x1="987.8" y1="649.2" x2="1020.2" y2="652.8" stroke="#7d7d7d" stroke-width="2.3" stroke-dasharray="13 11"/>
<line x1="1045.1" y1="655.4" x2="1077.5" y2="658.3" stroke="#7d7d7d" stroke-width="2.3" stroke-dasharray="13 11"/>
<line x1="1102.4" y1="661.1" x2="1134.9" y2="665.4" stroke="#7d7d7d" stroke-width="2.3" stroke-dasharray="13 11"/>
<line x1="1159.7" y1="668.6" x2="1192.3" y2="672.9" stroke="#7d7d7d" stroke-width="2.3" stroke-dasharray="13 11"/>
<line x1="1216.7" y1="677.8" x2="1249.9" y2="686.7" stroke="#7d7d7d" stroke-width="2.3" stroke-dasharray="13 11"/>
<line x1="1274.5" y1="689.9" x2="1306.8" y2="689.6" stroke="#7d7d7d" stroke-width="2.3" stroke-dasharray="13 11"/>
<line x1="1331.8" y1="690.2" x2="1364.2" y2="691.8" stroke="#7d7d7d" stroke-width="2.3" stroke-dasharray="13 11"/>
<path d="M402.0 701.9L412.0 719.4L392.0 719.4Z" fill="#fff" stroke="#a0a0a0" stroke-width="1.6"/>
<path d="M459.4 701.9L469.4 719.4L449.4 719.4Z" fill="#fff" stroke="#a0a0a0" stroke-width="1.6"/>
<path d="M516.7 622.4L526.7 639.9L506.7 639.9Z" fill="#fff" stroke="#a0a0a0" stroke-width="1.6"/>
<path d="M574.0 607.4L584.0 624.9L564.0 624.9Z" fill="#fff" stroke="#a0a0a0" stroke-width="1.6"/>
<path d="M631.3 588.4L641.3 605.9L621.3 605.9Z" fill="#fff" stroke="#a0a0a0" stroke-width="1.6"/>
<path d="M688.7 441.4L698.7 458.9L678.7 458.9Z" fill="#fff" stroke="#a0a0a0" stroke-width="1.6"/>
<path d="M746.0 506.9L756.0 524.4L736.0 524.4Z" fill="#fff" stroke="#a0a0a0" stroke-width="1.6"/>
<path d="M803.3 565.9L813.3 583.4L793.3 583.4Z" fill="#fff" stroke="#a0a0a0" stroke-width="1.6"/>
<path d="M860.7 609.3L870.7 626.8L850.7 626.8Z" fill="#fff" stroke="#a0a0a0" stroke-width="1.6"/>
<path d="M918.0 625.8L928.0 643.3L908.0 643.3Z" fill="#fff" stroke="#a0a0a0" stroke-width="1.6"/>
<path d="M975.3 636.2L985.3 653.7L965.3 653.7Z" fill="#fff" stroke="#a0a0a0" stroke-width="1.6"/>
<path d="M1032.7 642.6L1042.7 660.1L1022.7 660.1Z" fill="#fff" stroke="#a0a0a0" stroke-width="1.6"/>
<path d="M1090.0 647.9L1100.0 665.4L1080.0 665.4Z" fill="#fff" stroke="#a0a0a0" stroke-width="1.6"/>
<path d="M1147.3 655.4L1157.3 672.9L1137.3 672.9Z" fill="#fff" stroke="#a0a0a0" stroke-width="1.6"/>
<path d="M1204.6 662.9L1214.6 680.4L1194.6 680.4Z" fill="#fff" stroke="#a0a0a0" stroke-width="1.6"/>
<path d="M1262.0 678.4L1272.0 695.9L1252.0 695.9Z" fill="#fff" stroke="#a0a0a0" stroke-width="1.6"/>
<path d="M1319.3 677.9L1329.3 695.4L1309.3 695.4Z" fill="#fff" stroke="#a0a0a0" stroke-width="1.6"/>
<path d="M1376.6 680.9L1386.6 698.4L1366.6 698.4Z" fill="#fff" stroke="#a0a0a0" stroke-width="1.6"/>
</g>
<rect x="344.5" y="7.4" width="1088.0" height="361.1" fill="none" stroke="#201c1d" stroke-width="3"/>
<rect x="344.5" y="394.4" width="1088.0" height="360.20000000000005" fill="none" stroke="#201c1d" stroke-width="3"/>
<line x1="459.5" y1="368.5" x2="459.5" y2="353.3" stroke="#201c1d" stroke-width="2.9"/>
<line x1="459.5" y1="754.6" x2="459.5" y2="739.4" stroke="#201c1d" stroke-width="2.9"/>
<line x1="574.0" y1="368.5" x2="574.0" y2="353.3" stroke="#201c1d" stroke-width="2.9"/>
<line x1="574.0" y1="754.6" x2="574.0" y2="739.4" stroke="#201c1d" stroke-width="2.9"/>
<line x1="688.5" y1="368.5" x2="688.5" y2="353.3" stroke="#201c1d" stroke-width="2.9"/>
<line x1="688.5" y1="754.6" x2="688.5" y2="739.4" stroke="#201c1d" stroke-width="2.9"/>
<line x1="803.0" y1="368.5" x2="803.0" y2="353.3" stroke="#201c1d" stroke-width="2.9"/>
<line x1="803.0" y1="754.6" x2="803.0" y2="739.4" stroke="#201c1d" stroke-width="2.9"/>
<line x1="917.5" y1="368.5" x2="917.5" y2="353.3" stroke="#201c1d" stroke-width="2.9"/>
<line x1="917.5" y1="754.6" x2="917.5" y2="739.4" stroke="#201c1d" stroke-width="2.9"/>
<line x1="1032.0" y1="368.5" x2="1032.0" y2="353.3" stroke="#201c1d" stroke-width="2.9"/>
<line x1="1032.0" y1="754.6" x2="1032.0" y2="739.4" stroke="#201c1d" stroke-width="2.9"/>
<line x1="1146.5" y1="368.5" x2="1146.5" y2="353.3" stroke="#201c1d" stroke-width="2.9"/>
<line x1="1146.5" y1="754.6" x2="1146.5" y2="739.4" stroke="#201c1d" stroke-width="2.9"/>
<line x1="1261.0" y1="368.5" x2="1261.0" y2="353.3" stroke="#201c1d" stroke-width="2.9"/>
<line x1="1261.0" y1="754.6" x2="1261.0" y2="739.4" stroke="#201c1d" stroke-width="2.9"/>
<line x1="1375.5" y1="368.5" x2="1375.5" y2="353.3" stroke="#201c1d" stroke-width="2.9"/>
<line x1="1375.5" y1="754.6" x2="1375.5" y2="739.4" stroke="#201c1d" stroke-width="2.9"/>
<line x1="344.5" y1="30.5" x2="360.0" y2="30.5" stroke="#201c1d" stroke-width="2.9"/>
<line x1="344.5" y1="182.4" x2="360.0" y2="182.4" stroke="#201c1d" stroke-width="2.9"/>
<line x1="344.5" y1="334.2" x2="360.0" y2="334.2" stroke="#201c1d" stroke-width="2.9"/>
<line x1="344.5" y1="462" x2="360.0" y2="462" stroke="#201c1d" stroke-width="2.9"/>
<line x1="344.5" y1="548" x2="360.0" y2="548" stroke="#201c1d" stroke-width="2.9"/>
<line x1="344.5" y1="634.5" x2="360.0" y2="634.5" stroke="#201c1d" stroke-width="2.9"/>
<line x1="344.5" y1="719.4" x2="360.0" y2="719.4" stroke="#201c1d" stroke-width="2.9"/>
<g font-family="Liberation Serif, serif" text-rendering="geometricPrecision" opacity="0.999">
<text x="318.8" y="46.4" font-size="56" text-anchor="end" fill="#201c1d" >0.4</text>
<text x="318.8" y="198" font-size="56" text-anchor="end" fill="#201c1d" >0.2</text>
<text x="318.8" y="349.5" font-size="56" text-anchor="end" fill="#201c1d" >0</text>
<text x="318.8" y="478" font-size="56" text-anchor="end" fill="#201c1d" >1.5</text>
<text x="318.8" y="564.3" font-size="56" text-anchor="end" fill="#201c1d" >1.0</text>
<text x="318.8" y="650" font-size="56" text-anchor="end" fill="#201c1d" >0.5</text>
<text x="318.8" y="735" font-size="56" text-anchor="end" fill="#201c1d" >0</text>
<text x="343.0" y="818" font-size="56" text-anchor="middle" fill="#201c1d" >2</text>
<text x="458.5" y="818" font-size="56" text-anchor="middle" fill="#201c1d" >4</text>
<text x="573.2" y="818" font-size="56" text-anchor="middle" fill="#201c1d" >6</text>
<text x="688.5" y="818" font-size="56" text-anchor="middle" fill="#201c1d" >8</text>
<text x="804.0" y="818" font-size="56" text-anchor="middle" fill="#201c1d" >10</text>
<text x="917.5" y="818" font-size="56" text-anchor="middle" fill="#201c1d" >12</text>
<text x="1032.0" y="818" font-size="56" text-anchor="middle" fill="#201c1d" >14</text>
<text x="1146.5" y="818" font-size="56" text-anchor="middle" fill="#201c1d" >14</text>
<text x="1261.0" y="818" font-size="56" text-anchor="middle" fill="#201c1d" >18</text>
<text x="1375.5" y="818" font-size="56" text-anchor="middle" fill="#201c1d" >20</text>
<text transform="translate(186,189) rotate(-90)" font-size="55" text-anchor="middle" fill="#201c1d"><tspan font-style="italic">X</tspan><tspan font-size="33" dy="11">max</tspan><tspan dy="-11">/</tspan><tspan font-style="italic">D</tspan></text>
<text transform="translate(186,572) rotate(-90)" font-size="55" text-anchor="middle" fill="#201c1d"><tspan font-style="italic">Y</tspan><tspan font-size="33" dy="11">max</tspan><tspan dy="-11">/</tspan><tspan font-style="italic">D</tspan></text>
<text x="869" y="902" font-size="56" fill="#201c1d"><tspan font-style="italic">U</tspan><tspan font-size="33" dy="11" dx="-2">r</tspan></text>
<text x="766.8" y="982" font-size="56" fill="#201c1d">(c) <tspan font-style="italic">k</tspan> = 0.10</text>
<text x="878.5" y="70" font-size="55.5" text-anchor="start" fill="#201c1d" >UC</text>
<text x="1170" y="70.4" font-size="55.5" text-anchor="start" fill="#8e8e8e" >DC</text>
<text x="932" y="121.6" font-size="55.5" fill="#201c1d" font-style="italic">r</text>
<text x="1083" y="121.6" font-size="55.5" fill="#201c1d" text-anchor="end" textLength="66.3" lengthAdjust="spacingAndGlyphs">1.0</text>
<rect x="970" y="98.25" width="29" height="2.3" fill="#201c1d"/>
<rect x="970" y="107.15" width="29" height="2.3" fill="#201c1d"/>
<text x="932" y="163.6" font-size="55.5" fill="#201c1d" font-style="italic">r</text>
<text x="1083" y="163.6" font-size="55.5" fill="#201c1d" text-anchor="end" textLength="66.3" lengthAdjust="spacingAndGlyphs">1.5</text>
<rect x="970" y="140.25" width="29" height="2.3" fill="#201c1d"/>
<rect x="970" y="149.15" width="29" height="2.3" fill="#201c1d"/>
<text x="932" y="205.6" font-size="55.5" fill="#201c1d" font-style="italic">r</text>
<text x="1083" y="205.6" font-size="55.5" fill="#201c1d" text-anchor="end" textLength="66.3" lengthAdjust="spacingAndGlyphs">2.0</text>
<rect x="970" y="182.25" width="29" height="2.3" fill="#201c1d"/>
<rect x="970" y="191.15" width="29" height="2.3" fill="#201c1d"/>
<text x="1247.5" y="117" font-size="55.5" fill="#8e8e8e" font-style="italic">r</text>
<text x="1398" y="117" font-size="55.5" fill="#8e8e8e" text-anchor="end" textLength="66.3" lengthAdjust="spacingAndGlyphs">1.0</text>
<rect x="1285" y="92.85" width="29" height="2.3" fill="#8e8e8e"/>
<rect x="1285" y="101.65" width="29" height="2.3" fill="#8e8e8e"/>
<text x="1247.5" y="161" font-size="55.5" fill="#8e8e8e" font-style="italic">r</text>
<text x="1398" y="161" font-size="55.5" fill="#8e8e8e" text-anchor="end" textLength="66.3" lengthAdjust="spacingAndGlyphs">1.5</text>
<rect x="1285" y="136.85" width="29" height="2.3" fill="#8e8e8e"/>
<rect x="1285" y="145.65" width="29" height="2.3" fill="#8e8e8e"/>
<text x="1247.5" y="203.6" font-size="55.5" fill="#8e8e8e" font-style="italic">r</text>
<text x="1398" y="203.6" font-size="55.5" fill="#8e8e8e" text-anchor="end" textLength="66.3" lengthAdjust="spacingAndGlyphs">2.0</text>
<rect x="1285" y="179.45" width="29" height="2.3" fill="#8e8e8e"/>
<rect x="1285" y="188.25" width="29" height="2.3" fill="#8e8e8e"/>
</g>
<line x1="844" y1="106" x2="870" y2="106" stroke="#201c1d" stroke-width="3.6"/>
<line x1="895" y1="106" x2="922" y2="106" stroke="#201c1d" stroke-width="3.6"/>
<rect x="874.2" y="97.8" width="16.3" height="16.3" fill="#201c1d" stroke="none"/>
<line x1="844" y1="147" x2="870" y2="147" stroke="#201c1d" stroke-width="3.6"/>
<line x1="895" y1="147" x2="922" y2="147" stroke="#201c1d" stroke-width="3.6"/>
<circle cx="882.4" cy="147.0" r="8.8" fill="#201c1d" stroke="none"/>
<line x1="844" y1="188.4" x2="870" y2="188.4" stroke="#201c1d" stroke-width="3.6"/>
<line x1="895" y1="188.4" x2="922" y2="188.4" stroke="#201c1d" stroke-width="3.6"/>
<path d="M882.4 177.6L893.0 196.4L871.8 196.4Z" fill="#201c1d" stroke="none"/>
<line x1="1154.4" y1="101.6" x2="1168" y2="101.6" stroke="#7d7d7d" stroke-width="2.6"/>
<line x1="1180" y1="101.6" x2="1184.5" y2="101.6" stroke="#7d7d7d" stroke-width="2.6"/>
<line x1="1205" y1="101.6" x2="1219" y2="101.6" stroke="#7d7d7d" stroke-width="2.6"/>
<line x1="1230.5" y1="101.6" x2="1235" y2="101.6" stroke="#7d7d7d" stroke-width="2.6"/>
<rect x="1187.0" y="94.1" width="15.0" height="15.0" fill="#fff" stroke="#a0a0a0" stroke-width="2.2"/>
<line x1="1154.4" y1="145" x2="1168" y2="145" stroke="#7d7d7d" stroke-width="2.6"/>
<line x1="1180" y1="145" x2="1184.5" y2="145" stroke="#7d7d7d" stroke-width="2.6"/>
<line x1="1205" y1="145" x2="1219" y2="145" stroke="#7d7d7d" stroke-width="2.6"/>
<line x1="1230.5" y1="145" x2="1235" y2="145" stroke="#7d7d7d" stroke-width="2.6"/>
<circle cx="1194.5" cy="145.0" r="8.2" fill="#fff" stroke="#a0a0a0" stroke-width="2.2"/>
<line x1="1154.4" y1="187.6" x2="1168" y2="187.6" stroke="#7d7d7d" stroke-width="2.6"/>
<line x1="1180" y1="187.6" x2="1184.5" y2="187.6" stroke="#7d7d7d" stroke-width="2.6"/>
<line x1="1205" y1="187.6" x2="1219" y2="187.6" stroke="#7d7d7d" stroke-width="2.6"/>
<line x1="1230.5" y1="187.6" x2="1235" y2="187.6" stroke="#7d7d7d" stroke-width="2.6"/>
<path d="M1194.5 177.5L1204.5 195.0L1184.5 195.0Z" fill="#fff" stroke="#a0a0a0" stroke-width="2.2"/>
</svg>
</body></html>
